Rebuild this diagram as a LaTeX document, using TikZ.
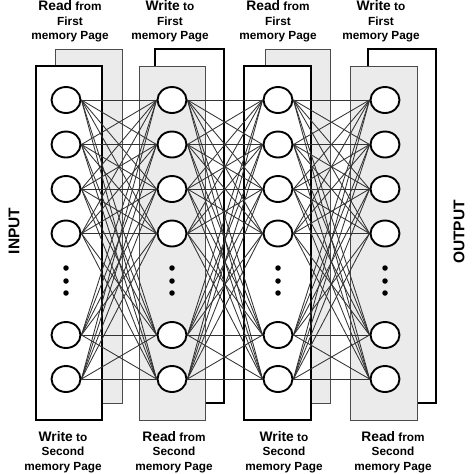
\documentclass[tikz,border=0pt]{standalone}
\usepackage{fontspec}
\setmainfont{Liberation Sans}
\usetikzlibrary{shapes.geometric}

\tikzset{
  whitepage/.style={draw=black, line width=2.4pt, fill=white},
  graypage/.style={draw=black!70, line width=1pt, fill=black!8},
  neuron/.style={ellipse, draw, line width=1.9pt, fill=white, minimum width=29pt, minimum height=26pt, inner sep=0pt},
  synapse/.style={draw=black!80, line width=0.85pt},
  pagelabel/.style={align=center, inner sep=0pt, font=\bfseries\fontsize{11.8}{14.5}\selectfont},
  sidelabel/.style={rotate=90, inner sep=0pt, font=\bfseries\fontsize{15.5}{15.5}\selectfont},
  gapdot/.style={circle, fill, inner sep=0pt, minimum size=5.5pt}
}
\newcommand{\pageverb}[1]{{\fontsize{13.8}{14.5}\selectfont #1}}

\begin{document}
\begin{tikzpicture}[x=1pt, y=-1pt]
  \useasboundingbox (0,0) rectangle (474,474);

  % Memory pages (back page first, front page on top)
  \draw[graypage]  (55,49)  rectangle (122,403);
  \draw[whitepage] (36,66)  rectangle (102,420);
  \draw[whitepage] (155,49) rectangle (224,403);
  \draw[graypage]  (139,66) rectangle (205,420);
  \draw[graypage]  (265,49) rectangle (330,403);
  \draw[whitepage] (244,66) rectangle (311,420);
  \draw[whitepage] (368,49) rectangle (436,403);
  \draw[graypage]  (350,66) rectangle (417,420);

  % Neurons of the four layers
  \foreach \l/\x in {1/66, 2/172, 3/278, 4/385} {
    \foreach \r/\y in {1/100, 2/144.5, 3/189, 4/233.5, 5/335, 6/379}
      \node[neuron] (n-\l-\r) at (\x,\y) {};
    \foreach \y [count=\d] in {268, 281, 293}
      \node[gapdot] (d-\l-\d) at (\x,\y) {};
  }

  % Full connections between neighbouring layers
  \foreach \l/\m in {1/2, 2/3, 3/4}
    \foreach \r in {1,...,6}
      \foreach \s in {1,...,6}
        \draw[synapse] (n-\l-\r.east) -- (n-\m-\s.west);

  % Page labels
  \node[pagelabel, anchor=north] (top-1) at (70,0.5)  {\pageverb{Read} from\\First\\memory Page};
  \node[pagelabel, anchor=north] (top-2) at (170,0.5) {\pageverb{Write} to\\First\\memory Page};
  \node[pagelabel, anchor=north] (top-3) at (278,0.5) {\pageverb{Read} from\\First\\memory Page};
  \node[pagelabel, anchor=north] (top-4) at (381,0.5) {\pageverb{Write} to\\First\\memory Page};

  \node[pagelabel, anchor=north] (bot-1) at (63,431)  {\pageverb{Write} to\\Second\\memory Page};
  \node[pagelabel, anchor=north] (bot-2) at (174,431) {\pageverb{Read} from\\Second\\memory Page};
  \node[pagelabel, anchor=north] (bot-3) at (284,431) {\pageverb{Write} to\\Second\\memory Page};
  \node[pagelabel, anchor=north] (bot-4) at (393,431) {\pageverb{Read} from\\Second\\memory Page};

  % Input and output
  \node[sidelabel] (input) at (14,231) {INPUT};
  \node[sidelabel] (output) at (459,232) {OUTPUT};
\end{tikzpicture}
\end{document}
